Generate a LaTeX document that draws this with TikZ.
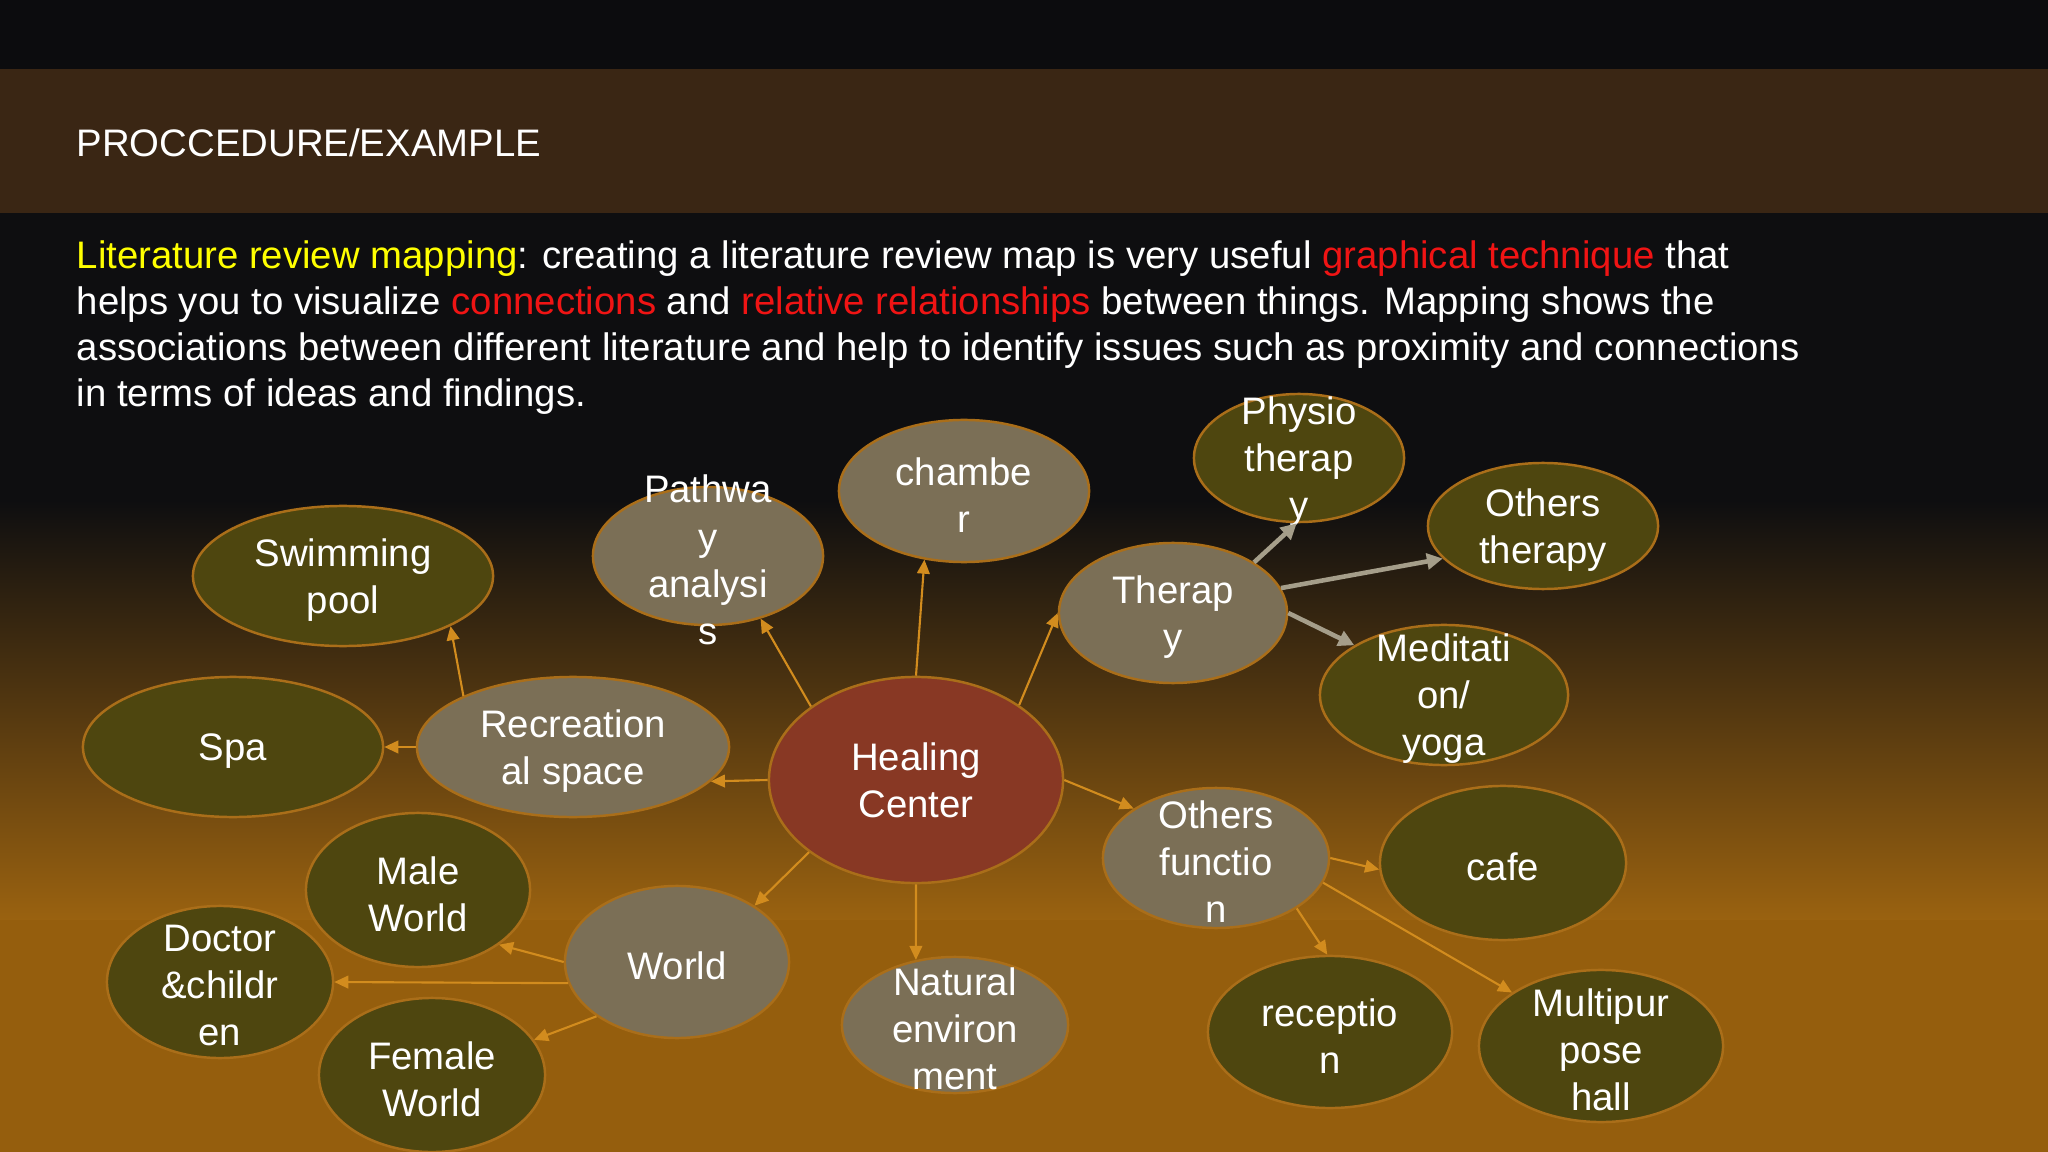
\documentclass[tikz,border=0pt]{standalone}
\usepackage{fontspec}
\setmainfont{Liberation Sans}
\usepackage{tikz}
\usetikzlibrary{shapes.geometric,arrows.meta,positioning}
\definecolor{topblack}{RGB}{12,12,14}
\definecolor{banner}{RGB}{58,38,20}
\definecolor{glowtop}{RGB}{14,14,16}
\definecolor{glowbottom}{RGB}{154,98,16}
\definecolor{floorbrown}{RGB}{149,94,13}
\definecolor{greyfill}{RGB}{123,111,86}
\definecolor{olivefill}{RGB}{78,70,15}
\definecolor{healfill}{RGB}{136,56,36}
\definecolor{rimline}{RGB}{170,110,25}
\definecolor{linkorange}{RGB}{210,140,30}
\definecolor{linkgrey}{RGB}{165,158,138}
\definecolor{hiyellow}{RGB}{255,255,0}
\definecolor{hired}{RGB}{240,20,20}
\newcommand{\bubblefont}{\fontsize{10.9}{13.4}\selectfont}
\newcommand{\bodyfont}{\fontsize{10.9}{13.1}\selectfont}

\begin{document}
\begin{tikzpicture}[x=0.01cm, y=-0.01cm,
    bubble/.style={ellipse, draw=rimline, line width=0.7pt, inner sep=0pt},
    greybub/.style={bubble, fill=greyfill},
    olivebub/.style={bubble, fill=olivefill},
    txt/.style={text=white, font=\bubblefont, align=center, inner sep=0pt, yshift=-1.1pt},
    bodyline/.style={text=white, font=\bodyfont, anchor=base west, inner sep=0pt},
    link/.style={draw=linkorange, line width=0.6pt, -{Triangle[length=4pt,width=3.6pt]}},
    glink/.style={draw=linkgrey, line width=1.3pt, -{Triangle[length=4.5pt,width=4.5pt]}}]
    \useasboundingbox (0,0) rectangle (2048,1152);
    % backdrop
    \fill[topblack] (0,0) rectangle (2048,69);
    \fill[banner] (0,69) rectangle (2048,213);
    \fill[glowtop] (0,213) rectangle (2048,500);
    \shade[top color=glowtop, bottom color=glowbottom] (0,500) rectangle (2048,920);
    \fill[floorbrown] (0,920) rectangle (2048,1152);

    \node[bodyline] (title) at (76,157) {PROCCEDURE/EXAMPLE};
    \node[bodyline] (line1) at (76,269) {\textcolor{hiyellow}{Literature review mapping}: creating a literature review map is very useful \textcolor{hired}{graphical technique} that};
    \node[bodyline] (line2) at (76,315) {helps you to visualize \textcolor{hired}{connections} and \textcolor{hired}{relative relationships} between things. Mapping shows the};
    \node[bodyline] (line3) at (76,361) {associations between different literature and help to identify issues such as proximity and connections};
    \node[bodyline] (line4) at (76,407) {in terms of ideas and findings.};

    % map
    \node[bubble, fill=healfill, minimum width=2.94cm, minimum height=2.06cm,
          label={[txt, yshift=1.1pt]center:{Healing\\Center}}] (hc) at (916,780) {};
    \node[greybub, minimum width=3.12cm, minimum height=1.40cm,
          label={[txt]center:{Recreation\\al space}}] (rec) at (573,747) {};
    \node[olivebub, minimum width=3.0cm, minimum height=1.40cm,
          label={[txt]center:{Spa}}] (spa) at (233,747) {};
    \node[olivebub, minimum width=3.0cm, minimum height=1.40cm,
          label={[txt]center:{Swimming\\pool}}] (swim) at (343,576) {};
    \node[greybub, minimum width=2.30cm, minimum height=1.38cm,
          label={[txt]center:{Pathwa\\y\\analysi\\s}}] (path) at (708,556) {};
    \node[greybub, minimum width=2.50cm, minimum height=1.42cm,
          label={[txt]center:{chambe\\r}}] (chmb) at (964,491) {};
    \node[greybub, minimum width=2.28cm, minimum height=1.40cm,
          label={[txt]center:{Therap\\y}}] (ther) at (1173,613) {};
    \node[olivebub, minimum width=2.10cm, minimum height=1.28cm,
          label={[txt]center:{Physio\\therap\\y}}] (phys) at (1299,458) {};
    \node[olivebub, minimum width=2.30cm, minimum height=1.26cm,
          label={[txt]center:{Others\\therapy}}] (othr) at (1543,526) {};
    \node[olivebub, minimum width=2.48cm, minimum height=1.40cm,
          label={[txt]center:{Meditati\\on/\\yoga}}] (medi) at (1444,695) {};
    \node[greybub, minimum width=2.26cm, minimum height=1.40cm,
          label={[txt]center:{Others\\functio\\n}}] (ofun) at (1216,858) {};
    \node[olivebub, minimum width=2.46cm, minimum height=1.54cm,
          label={[txt]center:{cafe}}] (cafe) at (1503,863) {};
    \node[olivebub, minimum width=2.44cm, minimum height=1.52cm,
          label={[txt]center:{receptio\\n}}] (recp) at (1330,1032) {};
    \node[olivebub, minimum width=2.44cm, minimum height=1.52cm,
          label={[txt]center:{Multipur\\pose\\hall}}] (mph) at (1601,1046) {};
    \node[greybub, minimum width=2.26cm, minimum height=1.36cm,
          label={[txt]center:{Natural\\environ\\ment}}] (nat) at (955,1025) {};
    \node[greybub, minimum width=2.24cm, minimum height=1.52cm,
          label={[txt]center:{World}}] (wrld) at (677,962) {};
    \node[olivebub, minimum width=2.24cm, minimum height=1.54cm,
          label={[txt]center:{Male\\World}}] (male) at (418,890) {};
    \node[olivebub, minimum width=2.26cm, minimum height=1.52cm,
          label={[txt]center:{Doctor\\\&childr\\en}}] (doc) at (220,982) {};
    \node[olivebub, minimum width=2.26cm, minimum height=1.54cm,
          label={[txt]center:{Female\\World}}] (fem) at (432,1075) {};

    \draw[link] (hc.180) -- (rec.346);
    \draw[link] (hc.145) -- (path.310);
    \draw[link] (hc.90) -- (chmb.240);
    \draw[link] (hc.36) -- (ther.180);
    \draw[link] (hc.0) -- (ofun.149);
    \draw[link] (hc.270) -- (nat.121);
    \draw[link] (hc.214) -- (wrld.36);
    \draw[link] (rec.155) -- (swim.335);
    \draw[link] (rec.180) -- (spa.0);
    \draw[link] (wrld.180) -- (male.326);
    \draw[link] (wrld.191) -- (doc.0);
    \draw[link] (wrld.214) -- (fem.19);
    \draw[glink] (ther.32) -- (phys.268);
    \draw[glink] (ther.13) -- (othr.198);
    \draw[glink] (ther.0) -- (medi.151);
    \draw[link] (ofun.0) -- (cafe.183);
    \draw[link] (ofun.328) -- (recp.92);
    \draw[link] (ofun.347) -- (mph.149);
\end{tikzpicture}
\end{document}
